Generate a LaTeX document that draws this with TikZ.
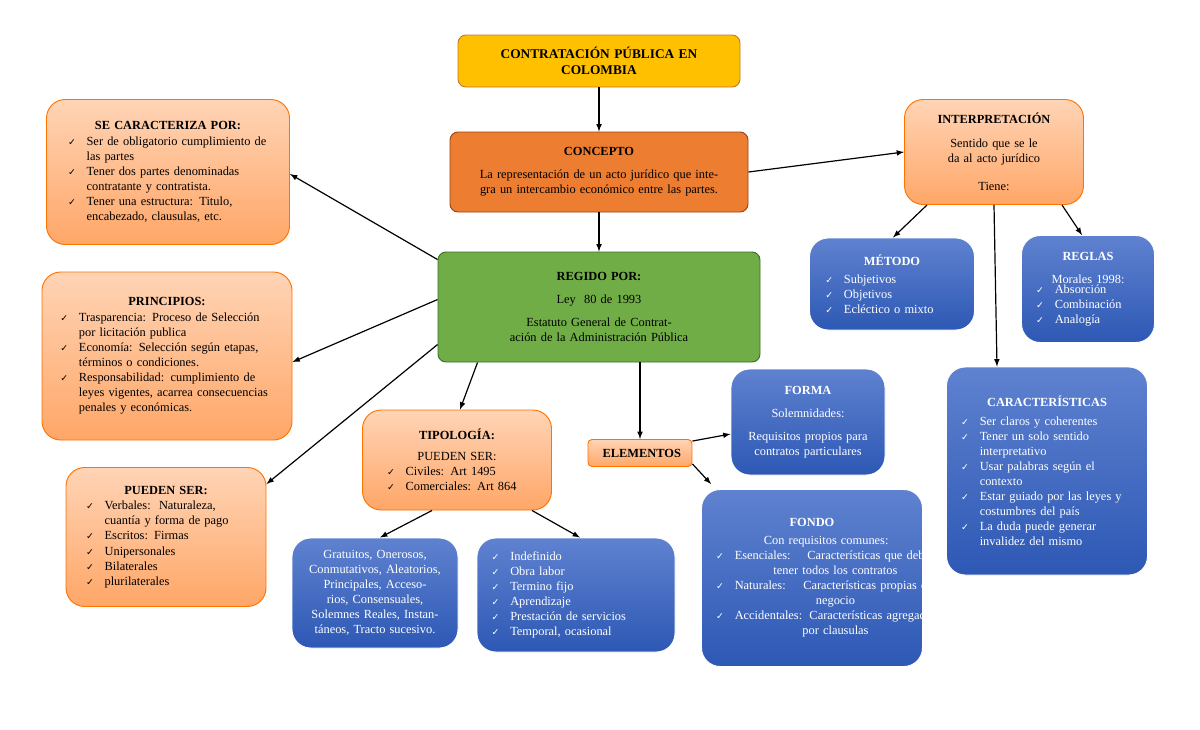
\documentclass[tikz,border=0pt]{standalone}
\usepackage{fontspec}
\setmainfont{Liberation Serif}
\newfontfamily\djv{DejaVu Sans}
\newcommand\ckm{{\djv\fontsize{7}{8}\selectfont\char"2713}}
\newcommand\itm[1]{\par\noindent\hangindent=1.5em\hangafter=1\makebox[1.5em][l]{\ckm}#1}
\begin{document}
\begin{tikzpicture}[x=0.75pt,y=-0.75pt,
  base/.style={rounded corners=14pt,draw,line width=0.7pt,align=center,font=\fontsize{9.3}{11.3}\selectfont,inner sep=3pt},
  sz/.style 2 args={minimum width=#1*0.75pt,minimum height=#2*0.75pt,text width=#1*0.75pt-22pt},
  sal/.style={base,draw=orange!90!red,top color=orange!25!white!95!red,bottom color=orange!55!white!90!red},
  blu/.style={base,draw=white,top color={rgb,255:red,95;green,130;blue,208},bottom color={rgb,255:red,45;green,88;blue,180},text=white},
  arr/.style={-latex,line width=0.9pt}]
\useasboundingbox (0,0) rectangle (1200,729);
\fill[white] (0,0) rectangle (1200,729);
\node[base,rounded corners=6pt,fill={rgb,255:red,255;green,192;blue,0},draw={rgb,255:red,200;green,120;blue,40},sz={282}{52},font=\fontsize{10}{12}\selectfont\bfseries] (tit) at (599,61) {CONTRATACIÓN PÚBLICA EN\\COLOMBIA};
\node[base,rounded corners=6pt,fill={rgb,255:red,237;green,125;blue,49},draw={rgb,255:red,150;green,70;blue,20},sz={298}{80}] (con) at (599,172) {\textbf{CONCEPTO}\\[6pt]La representación de un acto jurídico que integra un intercambio económico entre las partes.};
\node[base,rounded corners=6pt,fill={rgb,255:red,112;green,173;blue,71},draw={rgb,255:red,60;green,110;blue,40},sz={322}{110}] (reg) at (599,307) {\textbf{REGIDO POR:}\\[6pt]Ley\ \ 80 de 1993\\[6pt]Estatuto General de Contratación de la Administración Pública};
\node[sal,sz={243}{145}] (car) at (168,172) {\textbf{SE CARACTERIZA POR:}\\[4pt]\parbox{150pt}{\raggedright\itm{Ser de obligatorio cumplimiento de las partes}\itm{Tener dos partes denominadas contratante y contratista.}\itm{Tener una estructura: Titulo, encabezado, clausulas, etc.}}};
\node[sal,sz={250}{168}] (pri) at (167,356) {\textbf{PRINCIPIOS:}\\[4pt]\parbox{160pt}{\raggedright\itm{Trasparencia: Proceso de Selección por licitación publica}\itm{Economía: Selección según etapas, términos o condiciones.}\itm{Responsabilidad: cumplimiento de leyes vigentes, acarrea consecuencias penales y económicas.}}};
\node[sal,sz={200}{139}] (pue) at (166,537) {\textbf{PUEDEN SER:}\\[4pt]\parbox{120pt}{\raggedright\itm{Verbales:\ \ Naturaleza, cuantía y forma de pago}\itm{Escritos: Firmas}\itm{Unipersonales}\itm{Bilaterales}\itm{plurilaterales}}};
\node[sal,sz={189}{100}] (tip) at (457,460) {\textbf{TIPOLOGÍA:}\\[4pt]PUEDEN SER:\\[4pt]\parbox{105pt}{\raggedright\itm{Civiles: Art 1495}\itm{Comerciales: Art 864}}};
\node[sal,rounded corners=3pt,sz={104}{27},font=\fontsize{9.3}{11}\selectfont\bfseries] (ele) at (640,453) {ELEMENTOS};
\node[blu,sz={166}{110}] (gra) at (375,593) {Gratuitos, Onerosos, Conmutativos, Aleatorios, Principales, Accesorios, Consensuales, Solemnes Reales, Instantáneos, Tracto sucesivo.};
\node[blu,sz={198}{114}] (ind) at (576,595) {\parbox{135pt}{\raggedright\itm{Indefinido}\itm{Obra labor}\itm{Termino fijo}\itm{Aprendizaje}\itm{Prestación de servicios}\itm{Temporal, ocasional}}};
\node[blu,sz={154}{106}] (for) at (808,422) {\textbf{FORMA}\\[6pt]Solemnidades:\\[6pt]Requisitos propios para contratos particulares};
\node[blu,sz={221}{177}] (fon) at (812,578) {\textbf{FONDO}\\[6pt]\parbox{165pt}{\centering Con requisitos comunes:\par\itm{Esenciales:\hfill Características que deben tener todos los contratos}\itm{Naturales:\hfill Características propias del negocio}\itm{Accidentales:\hfill Características agregadas por clausulas}}};
\node[sal,sz={179}{105}] (int) at (994,152) {\textbf{INTERPRETACIÓN}\\[6pt]Sentido que se le da al acto jurídico\\[10pt]Tiene:};
\node[blu,sz={165}{92}] (met) at (892,284) {\textbf{MÉTODO}\\[6pt]\parbox{100pt}{\raggedright\itm{Subjetivos}\itm{Objetivos}\itm{Ecléctico o mixto}}};
\node[blu,sz={133}{107}] (rgl) at (1088,289) {\textbf{REGLAS}\\[6pt]Morales 1998:\\\parbox{80pt}{\raggedright\itm{Absorción}\itm{Combinación}\itm{Analogía}}};
\node[blu,sz={201}{208}] (cts) at (1047,471) {\textbf{CARACTERÍSTICAS}\\[6pt]\parbox{135pt}{\raggedright\itm{Ser claros y coherentes}\itm{Tener un solo sentido interpretativo}\itm{Usar palabras según el contexto}\itm{Estar guiado por las leyes y costumbres del país}\itm{La duda puede generar invalidez del mismo}}};
\draw[arr] (tit) -- (con);
\draw[arr] (con) -- (reg);
\draw[arr] (con.east) -- (int.west);
\draw[arr] ([yshift=-8*0.75pt]reg.north west) -- ([xshift=0pt,yshift=-2*0.75pt]car.east);
\draw[arr] ([yshift=-48*0.75pt]reg.north west) -- ([yshift=-6*0.75pt]pri.east);
\draw[arr] ([yshift=-93*0.75pt]reg.north west) -- ([yshift=-17*0.75pt]pue.north east);
\draw[arr] ([xshift=40*0.75pt]reg.south west) -- ([xshift=3*0.75pt]tip.north);
\draw[arr] ([xshift=41*0.75pt]reg.south) -- (ele.north);
\draw[arr] ([yshift=-2*0.75pt]ele.north east) -- ([yshift=-12*0.75pt]for.west);
\draw[arr] ([yshift=3*0.75pt]ele.south east) -- ([xshift=10*0.75pt,yshift=5*0.75pt]fon.north west);
\draw[arr] ([xshift=-25*0.75pt]tip.south) -- ([xshift=5*0.75pt]gra.north);
\draw[arr] ([xshift=75*0.75pt]tip.south) -- ([xshift=4*0.75pt]ind.north);
\draw[arr] ([xshift=23*0.75pt]int.south west) -- ([xshift=1*0.75pt]met.north);
\draw[arr] ([xshift=-22*0.75pt]int.south east) -- ([xshift=-6*0.75pt]rgl.north);
\draw[arr] (int.south) -- ([xshift=-50*0.75pt]cts.north);
\end{tikzpicture}
\end{document}
